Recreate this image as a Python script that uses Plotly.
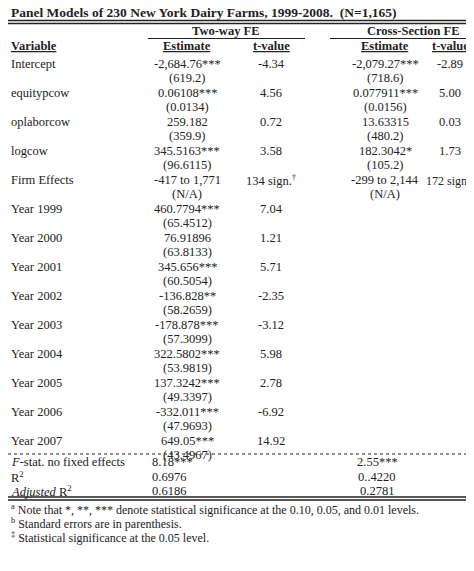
import plotly.graph_objects as go

# table content
variables = ['Intercept', 'equitypcow', 'oplaborcow', 'logcow', 'Firm Effects',
             'Year 1999', 'Year 2000', 'Year 2001', 'Year 2002', 'Year 2003',
             'Year 2004', 'Year 2005', 'Year 2006', 'Year 2007']
tw_est = ['-2,684.76***', '0.06108***', '259.182', '345.5163***', '-417 to 1,771',
          '460.7794***', '76.91896', '345.656***', '-136.828**', '-178.878***',
          '322.5802***', '137.3242***', '-332.011***', '649.05***']
tw_se = ['(619.2)', '(0.0134)', '(359.9)', '(96.6115)', '(N/A)',
         '(65.4512)', '(63.8133)', '(60.5054)', '(58.2659)', '(57.3099)',
         '(53.9819)', '(49.3397)', '(47.9693)', '(43.4967)']
tw_t = ['-4.34', '4.56', '0.72', '3.58', '134 sign.<sup>†</sup>',
        '7.04', '1.21', '5.71', '-2.35', '-3.12', '5.98', '2.78', '-6.92', '14.92']
cs_est = ['-2,079.27***', '0.077911***', '13.63315', '182.3042*', '-299 to 2,144']
cs_se = ['(718.6)', '(0.0156)', '(480.2)', '(105.2)', '(N/A)']
cs_t = ['-2.89', '5.00', '0.03', '1.73', '172 sign.<sup>‡</sup>']

stat_labels = ['<i>F</i>-stat. no fixed effects', 'R<sup>2</sup>', '<i>Adjusted</i> R<sup>2</sup>']
stat_tw = ['8.18***', '0.6976', '0.6186']
stat_cs = ['2.55***', '0..4220', '0.2781']

notes = ['<sup>a</sup> Note that *, **, *** denote statistical significance at the 0.10, 0.05, and 0.01 levels.',
         '<sup>b</sup> Standard errors are in parenthesis.',
         '<sup>‡</sup> Statistical significance at the 0.05 level.']

FONT = 'Liberation Serif'
fig = go.Figure()
ann = []

def txt(x, y, s, anchor='center', size=12.5, bold=False):
    if bold:
        s = '<b>' + s + '</b>'
    ann.append(dict(x=x, y=y, text=s, xanchor=anchor, yanchor='middle', showarrow=False,
                    font=dict(family=FONT, size=size, color='#222')))

L = 9  # left edge of text (page has 8px body margin)
txt(L, 12, 'Panel Models of 230 New York Dairy Farms, 1999-2008.  (N=1,165)', 'left', 13.5, True)
txt(225, 31, 'Two-way FE', bold=True)
txt(413, 31, 'Cross-Section FE', bold=True)
txt(L, 46, '<u>Variable</u>', 'left', bold=True)
for x in (187, 385):
    txt(x, 46, '<u>Estimate</u>', bold=True)
txt(271, 46, '<u>t-value</u>', bold=True)
txt(450, 46, '<u>t-value</u>', bold=True)

row0, step = 64, 29.0
for i, v in enumerate(variables):
    y = row0 + i * step
    txt(L, y, v, 'left')
    txt(187, y, tw_est[i])
    txt(187, y + 14, tw_se[i])
    txt(271, y, tw_t[i])
    if i < len(cs_est):
        txt(385, y, cs_est[i])
        txt(385, y + 14, cs_se[i])
        txt(450, y, cs_t[i], size=12 if i == 4 else 12.5)

for i, s in enumerate(stat_labels):
    y = 462 + i * 14.5
    txt(L, y, s, 'left')
    txt(150, y, stat_tw[i], 'left')
    txt(377, y, stat_cs[i])

for i, s in enumerate(notes):
    txt(L, 509 + i * 14, s, 'left', 12)

shapes = []
def hline(y, x0=8, x1=474, w=1, dash='solid'):
    shapes.append(dict(type='line', x0=x0, x1=x1, y0=y, y1=y,
                       line=dict(color='#222', width=w, dash=dash)))

hline(20.5, w=1.5); hline(23.5, w=1.5)
hline(38.5, 148, 305); hline(38.5, 330, 474)
hline(454, dash='dot')
hline(497, w=1.5); hline(500, w=1.5)

fig.update_layout(width=466, height=563, margin=dict(l=0, r=0, t=0, b=0),
                  paper_bgcolor='white', plot_bgcolor='white',
                  xaxis=dict(range=[8, 474], visible=False, fixedrange=True),
                  yaxis=dict(range=[571, 8], visible=False, fixedrange=True),
                  annotations=ann, shapes=shapes, showlegend=False)
fig.write_html('out.html')
